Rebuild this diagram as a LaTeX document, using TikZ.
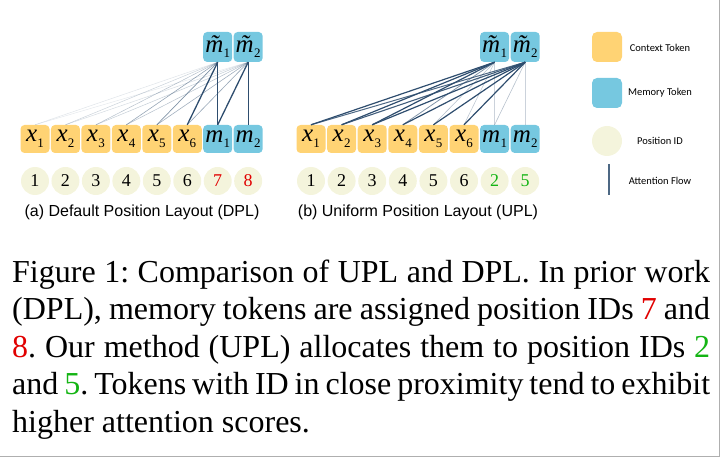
\documentclass[tikz,border=0pt]{standalone}
\usepackage{fontspec}
\setmainfont{Liberation Serif}
\newfontfamily\capsans{Liberation Sans}
\newfontfamily\legfont{Carlito}
\definecolor{ctxor}{RGB}{255,211,116}
\definecolor{memblue}{RGB}{118,200,224}
\definecolor{pidbeige}{RGB}{244,244,220}
\definecolor{attdark}{RGB}{46,77,110}
\definecolor{idred}{RGB}{225,0,0}
\definecolor{idgreen}{RGB}{20,180,20}
\definecolor{frame}{RGB}{175,175,175}
\newcommand\tokx[2]{{\itshape #1}\kern0.3pt\raisebox{-0.22em}{\fontsize{13}{13}\selectfont #2}}
\newcommand\tokt[1]{{\itshape\~{m}}\kern0.3pt\raisebox{-0.22em}{\fontsize{13}{13}\selectfont #1}}
\begin{document}
\begin{tikzpicture}[x=1pt,y=-1pt,
  tokbase/.style={rectangle, rounded corners=4pt, minimum width=29pt, minimum height=28pt, inner sep=0pt, font=\fontsize{25}{25}\selectfont},
  ctx/.style={tokbase, fill=ctxor},
  mem/.style={tokbase, fill=memblue},
  memt/.style={tokbase, fill=memblue, minimum height=30pt},
  pid/.style={circle, fill=pidbeige, minimum size=28pt, inner sep=0pt, font=\fontsize{18}{18}\selectfont},
  att/.style={draw=attdark, line width=#1},
  att/.default=0.6pt,
  subcap/.style={font=\capsans\fontsize{16}{16}\selectfont, inner sep=0pt},
  legtext/.style={font=\legfont\fontsize{10.5}{10.5}\selectfont, inner sep=0pt},
]
\useasboundingbox (0,0) rectangle (720,457);
\draw[frame, line width=1pt] (719.5,0) -- (719.5,456.5) -- (0,456.5);

% ---------- panel (a) ----------
\foreach \i in {1,...,6} {
  \node[ctx] (ax\i) at ({35+30.45*(\i-1)},139) {\tokx{x}{\i}};
  \node[pid] (ap\i) at ({35+30.45*(\i-1)},181) {\i};
}
\node[mem] (am1) at ({35+30.45*6},139) {\tokx{m}{1}};
\node[mem] (am2) at ({35+30.45*7},139) {\tokx{m}{2}};
\node[pid, text=idred] (ap7) at ({35+30.45*6},181) {7};
\node[pid, text=idred] (ap8) at ({35+30.45*7},181) {8};
\node[memt] (at1) at ({35+30.45*6},47) {\tokt{1}};
\node[memt] (at2) at ({35+30.45*7},47) {\tokt{2}};

\draw[att=0.5pt, opacity=0.15] (at1.south) -- (ax1.north);
\draw[att=0.5pt, opacity=0.25] (at1.south) -- (ax2.north);
\draw[att=0.5pt, opacity=0.35] (at1.south) -- (ax3.north);
\draw[att=0.6pt, opacity=0.5] (at1.south) -- (ax4.north);
\draw[att=0.7pt, opacity=0.6] (at1.south) -- (ax5.north);
\draw[att=1.3pt, opacity=1] (at1.south) -- (ax6.north);
\draw[att=1.3pt, opacity=1] (at1.south) -- (am1.north);
\draw[att=0.5pt, opacity=0.12] (at2.south) -- (ax1.north);
\draw[att=0.5pt, opacity=0.2] (at2.south) -- (ax2.north);
\draw[att=0.5pt, opacity=0.28] (at2.south) -- (ax3.north);
\draw[att=0.5pt, opacity=0.35] (at2.south) -- (ax4.north);
\draw[att=0.6pt, opacity=0.45] (at2.south) -- (ax5.north);
\draw[att=0.6pt, opacity=0.5] (at2.south) -- (ax6.north);
\draw[att=1.3pt, opacity=1] (at2.south) -- (am1.north);
\draw[att=1.3pt, opacity=1] (at2.south) -- (am2.north);

\node[subcap] (capa) at (142,212) {(a) Default Position Layout (DPL)};

% ---------- panel (b) ----------
\foreach \i in {1,...,6} {
  \node[ctx] (bx\i) at ({311+30.6*(\i-1)},139) {\tokx{x}{\i}};
  \node[pid] (bp\i) at ({311+30.6*(\i-1)},181) {\i};
}
\node[mem] (bm1) at ({311+30.6*6},139) {\tokx{m}{1}};
\node[mem] (bm2) at ({311+30.6*7},139) {\tokx{m}{2}};
\node[pid, text=idgreen] (bp7) at ({311+30.6*6},181) {2};
\node[pid, text=idgreen] (bp8) at ({311+30.6*7},181) {5};
\node[memt] (bt1) at ({311+30.6*6},47) {\tokt{1}};
\node[memt] (bt2) at ({311+30.6*7},47) {\tokt{2}};

\draw[att=1.2pt, opacity=1] (bt1.south) -- (bx1.north);
\draw[att=1.2pt, opacity=1] (bt1.south) -- (bx2.north);
\draw[att=1.2pt, opacity=1] (bt1.south) -- (bx3.north);
\draw[att=0.8pt, opacity=0.6] (bt1.south) -- (bx4.north);
\draw[att=0.6pt, opacity=0.35] (bt1.south) -- (bx5.north);
\draw[att=0.6pt, opacity=0.3] (bt1.south) -- (bx6.north);
\draw[att=0.6pt, opacity=0.25] (bt1.south) -- (bm1.north);
\draw[att=1.0pt, opacity=0.85] (bt2.south) -- (bx1.north);
\draw[att=1.1pt, opacity=0.9] (bt2.south) -- (bx2.north);
\draw[att=1.2pt, opacity=1] (bt2.south) -- (bx3.north);
\draw[att=1.2pt, opacity=1] (bt2.south) -- (bx4.north);
\draw[att=1.2pt, opacity=1] (bt2.south) -- (bx5.north);
\draw[att=1.2pt, opacity=1] (bt2.south) -- (bx6.north);
\draw[att=0.6pt, opacity=0.35] (bt2.south) -- (bm1.north);
\draw[att=0.6pt, opacity=0.25] (bt2.south) -- (bm2.north);

\node[subcap] (capb) at (418,212) {(b) Uniform Position Layout (UPL)};

% ---------- legend ----------
\node[rectangle, rounded corners=5pt, fill=ctxor, minimum size=30pt, inner sep=0pt] (lctx) at (607,47) {};
\node[rectangle, rounded corners=5pt, fill=memblue, minimum size=30pt, inner sep=0pt] (lmem) at (607,93) {};
\node[circle, fill=pidbeige, minimum size=30pt, inner sep=0pt] (lpid) at (607,141) {};
\coordinate (lat1) at (609,164);
\coordinate (lat2) at (609,195);
\draw[att=1.5pt, draw=attdark!85] (lat1) -- (lat2);
\node[legtext] (tctx) at (660,48) {Context Token};
\node[legtext] (tmem) at (660,93) {Memory Token};
\node[legtext] (tpid) at (660,141) {Position ID};
\node[legtext] (tatt) at (660,181) {Attention Flow};

% ---------- caption ----------
\node[anchor=base west, inner sep=0pt] (caption) at (12,282) {\parbox[t]{698pt}{\frenchspacing\fontsize{32}{37.5}\selectfont
Figure 1: Comparison of UPL and DPL. In prior work\linebreak
(DPL), memory tokens are assigned position IDs \textcolor{idred}{7} and\linebreak
\textcolor{idred}{8}. Our method (UPL) allocates them to position IDs \textcolor{idgreen}{2}\linebreak
and \textcolor{idgreen}{5}. Tokens with ID in close proximity tend to exhibit\linebreak
higher attention scores.}};
\end{tikzpicture}
\end{document}
